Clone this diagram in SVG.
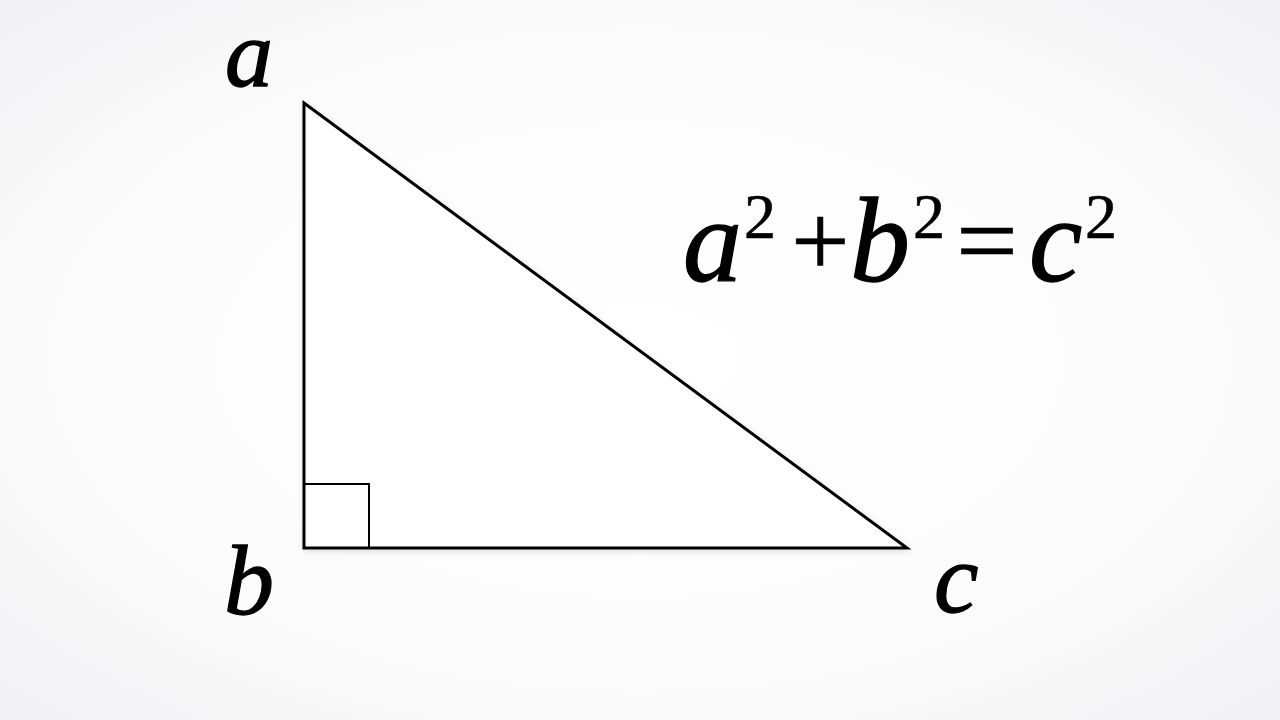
<svg xmlns="http://www.w3.org/2000/svg" width="1280" height="720" viewBox="0 0 1280 720">
  <defs>
    <radialGradient id="bg" cx="50%" cy="50%" r="75%">
      <stop offset="0" stop-color="#ffffff"/>
      <stop offset="0.6" stop-color="#fbfbfc"/>
      <stop offset="1" stop-color="#f0f0f2"/>
    </radialGradient>
    <filter id="sh" x="-10%" y="-10%" width="120%" height="120%">
      <feGaussianBlur in="SourceAlpha" stdDeviation="3"/>
      <feOffset dx="1" dy="2"/>
      <feComponentTransfer><feFuncA type="linear" slope="0.12"/></feComponentTransfer>
      <feMerge><feMergeNode/><feMergeNode in="SourceGraphic"/></feMerge>
    </filter>
  </defs>
  <style>
    .var { font-family: 'Liberation Serif', 'Times New Roman', serif; font-style: italic; fill: #000; stroke: #000; stroke-width: 1.3; }
    .num { font-family: 'Liberation Serif', 'Times New Roman', serif; fill: #000; stroke: #000; stroke-width: 0.6; }
  </style>
  <rect width="1280" height="720" fill="url(#bg)"/>
  <g id="triangle" filter="url(#sh)">
    <polygon points="304,103 304,548 907,548" fill="#ffffff" stroke="#000" stroke-width="3"/>
  </g>
  <g id="right-angle">
    <polyline points="304,484 369,484 369,548" fill="none" stroke="#000" stroke-width="2"/>
  </g>
  <g id="label-a"><text class="var" x="225" y="86" font-size="96">a</text></g>
  <g id="label-b"><text class="var" x="224" y="614" font-size="100">b</text></g>
  <g id="label-c"><text class="var" x="934" y="612" font-size="100">c</text></g>
  <g id="equation">
    <text class="var" x="683" y="281" font-size="118">a</text>
    <text class="num" x="744" y="238" font-size="64">2</text>
    <text class="num" x="791" y="276" font-size="104">+</text>
    <text class="var" x="850" y="281" font-size="120">b</text>
    <text class="num" x="913" y="238" font-size="64">2</text>
    <text class="num" x="956" y="276" font-size="104" textLength="62" lengthAdjust="spacingAndGlyphs">=</text>
    <text class="var" x="1029" y="281" font-size="120">c</text>
    <text class="num" x="1085" y="238" font-size="64">2</text>
  </g>
</svg>
